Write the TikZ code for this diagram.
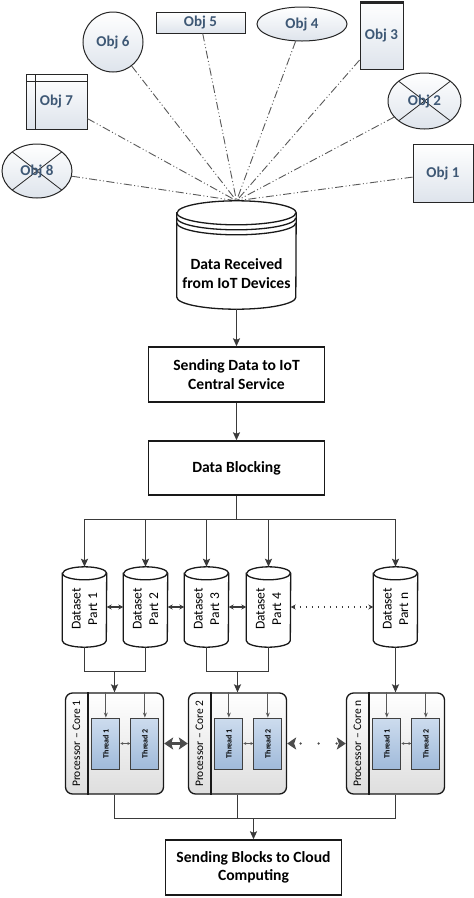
\documentclass[tikz,border=0pt]{standalone}
\usepackage{fontspec}
\setmainfont{Carlito}
\usetikzlibrary{shapes.geometric,arrows.meta,calc}
\definecolor{linec}{RGB}{58,58,58}
\definecolor{objtxt}{RGB}{62,88,117}
\definecolor{objfill}{RGB}{222,228,236}
\definecolor{thtop}{RGB}{205,220,238}
\definecolor{thbot}{RGB}{160,186,218}
\definecolor{prbot}{RGB}{222,222,222}
\newcommand\drawcyl[4]{%
  \draw[#4] ($(#1.north west)+(0,#3)$) -- ($(#1.south west)+(0,-#3)$)
    arc[start angle=180,end angle=360,x radius=#2pt,y radius=#3pt]
    -- ($(#1.north east)+(0,#3)$)
    arc[start angle=0,end angle=180,x radius=#2pt,y radius=#3pt] -- cycle;
  \draw[#4] ($(#1.north west)+(0,#3)$) arc[start angle=180,end angle=360,x radius=#2pt,y radius=#3pt];
}
\begin{document}
\begin{tikzpicture}[x=1pt,y=-1pt,
  obj/.style={draw=black!85, line width=1pt, top color=white, bottom color=objfill,
    text=objtxt, font=\bfseries\fontsize{15}{16}\selectfont, inner sep=0pt},
  feed/.style={draw=black!65, line width=0.9pt,
    dash pattern=on 8pt off 2.5pt on 1pt off 2.5pt on 1pt off 2.5pt},
  flowbox/.style={draw=black!90, line width=1.4pt, minimum width=176pt, minimum height=55pt,
    align=center, font=\bfseries\fontsize{15.6}{18.5}\selectfont, inner sep=0pt},
  flow/.style={draw=linec, line width=1.4pt},
  arr/.style={flow, -{Stealth[length=8pt,width=7pt,inset=1.5pt]}},
  cylst/.style={draw=black!90, line width=1.3pt, fill=white},
  dsbox/.style={minimum width=44pt, minimum height=80pt, inner sep=0pt},
  dstext/.style={rotate=90, align=center, font=\fontsize{13.5}{16.5}\selectfont, inner sep=0pt},
  dsarr/.style={draw=linec, line width=1.1pt, {Stealth[length=5pt,width=5pt]}-{Stealth[length=5pt,width=5pt]}},
  proc/.style={draw=black!90, line width=1.3pt, rounded corners=7pt, minimum width=98pt,
    minimum height=101pt, top color=white, bottom color=prbot, inner sep=0pt},
  proctext/.style={rotate=90, font=\fontsize{11.5}{13}\selectfont, inner sep=0pt},
  thread/.style={draw=black!75, line width=0.9pt, minimum width=28pt, minimum height=51pt,
    top color=thtop, bottom color=thbot, inner sep=0pt},
  threadtext/.style={rotate=90, font=\bfseries\fontsize{8}{10}\selectfont, inner sep=0pt},
  tarr/.style={draw=black!65, line width=0.9pt, -{Stealth[length=5pt,width=4pt]}},
  tdbl/.style={draw=black!65, line width=0.6pt, {Stealth[length=3pt,width=3pt]}-{Stealth[length=3pt,width=3pt]}}
]
\path[use as bounding box, fill=white] (0,0) rectangle (474,898);

% ---------- IoT objects ----------
\node[obj, ellipse, minimum width=70pt, minimum height=54pt,
  path picture={\draw[line width=0.8pt] (path picture bounding box.north west) -- (path picture bounding box.south east)
     (path picture bounding box.north east) -- (path picture bounding box.south west);}] (o8) at (37,171) {Obj 8};
\node[obj, rectangle, minimum width=61pt, minimum height=55pt,
  path picture={\draw[line width=0.8pt] ([xshift=9pt]path picture bounding box.north west) -- ([xshift=9pt]path picture bounding box.south west)
     ([yshift=-7pt]path picture bounding box.north west) -- ([yshift=-7pt]path picture bounding box.north east);}] (o7) at (56.5,101.5) {Obj 7};
\node[obj, circle, minimum size=60pt] (o6) at (113,42) {Obj 6};
\node[obj, rectangle, minimum width=89pt, minimum height=21pt] (o5) at (200.5,22.5) {Obj 5};
\node[obj, ellipse, minimum width=90pt, minimum height=34pt] (o4) at (302,24) {Obj 4};
\node[obj, rectangle, minimum width=43pt, minimum height=68pt,
  path picture={\draw[line width=5pt] (path picture bounding box.north west) -- (path picture bounding box.north east);}] (o3) at (381.5,35) {Obj 3};
\node[obj, ellipse, minimum width=73pt, minimum height=56pt,
  path picture={\draw[line width=0.8pt] (path picture bounding box.north west) -- (path picture bounding box.south east)
     (path picture bounding box.north east) -- (path picture bounding box.south west);}] (o2) at (424.5,101) {Obj 2};
\node[obj, rectangle, minimum width=60pt, minimum height=58pt] (o1) at (443,173) {Obj 1};

% ---------- database ----------
\node[minimum width=119pt, minimum height=108pt, inner sep=0pt] (db) at (236.5,255) {};
\foreach \o in {o1,o2,o3,o4,o5,o6,o7,o8} \draw[feed] (\o) -- (db.north);
\drawcyl{db}{59.5}{12}{cylst}
\draw[cylst, fill=none] ($(db.north west)+(0,17)$) arc[start angle=180,end angle=360,x radius=59.5pt,y radius=12pt];
\draw[cylst, fill=none] ($(db.north west)+(0,22)$) arc[start angle=180,end angle=360,x radius=59.5pt,y radius=12pt];
\node[align=center, font=\bfseries\fontsize{15.6}{19}\selectfont] (dbt) at (236.5,273.5) {Data Received\\from IoT Devices};

% ---------- flow boxes ----------
\node[flowbox] (b1) at (236.5,374.5) {Sending Data to IoT\\Central Service};
\node[flowbox, minimum height=54pt] (b2) at (236.5,468) {Data Blocking};
\draw[arr] (db.south) -- (b1.north);
\draw[arr] (b1.south) -- (b2.north);
\coordinate (split) at (236.5,519.5);
\draw[flow] (b2.south) -- (split);

% ---------- datasets ----------
\foreach \n/\x/\l in {ds1/84.5/1, ds2/145.5/2, ds3/206.5/3, ds4/268.5/4, dsn/395.5/n} {
  \node[dsbox] (\n) at (\x,607) {};
  \drawcyl{\n}{22}{6.5}{cylst}
  \node[dstext] (\n-t) at ($(\n.center)+(0,2)$) {Dataset\\Part \l};
  \draw[arr] (split) -| (\n.north);
}
\draw[dsarr] (ds1.east) -- (ds2.west);
\draw[dsarr] (ds2.east) -- (ds3.west);
\draw[dsarr] (ds3.east) -- (ds4.west);
\draw[dsarr, dash pattern=on 1pt off 5pt] (ds4.east) -- (dsn.west);

% ---------- processors ----------
\foreach \n/\x/\l in {p1/114.5/1, p2/237.5/2, pn/395.5/n} {
  \node[proc] (\n) at (\x,743.5) {};
  \draw[flow, draw=black!90] ($(\n.north west)+(23,0)$) -- ($(\n.south west)+(23,0)$);
  \node[proctext] (\n-t) at ($(\n.west)+(11.5,0)$) {Processor -- Core \l};
  \node[thread] (\n-a) at ($(\n.west)+(41,0)$) {};
  \node[thread] (\n-b) at ($(\n.west)+(80,0)$) {};
  \node[threadtext] (\n-at) at (\n-a.center) {Thread 1};
  \node[threadtext] (\n-bt) at (\n-b.center) {Thread 2};
  \draw[tarr] (\n-a.north |- \n.north) -- (\n-a.north);
  \draw[tarr] (\n-b.north |- \n.north) -- (\n-b.north);
  \draw[tdbl] (\n-a.east) -- (\n-b.west);
}
\coordinate (j1) at (114.5,671.5);
\coordinate (j2) at (237.5,671.5);
\draw[flow] (ds1.south) |- (j1) -| (ds2.south);
\draw[flow] (ds3.south) |- (j2) -| (ds4.south);
\draw[arr] (j1) -- (p1.north);
\draw[arr] (j2) -- (p2.north);
\draw[arr] (dsn.south) -- (pn.north);

\draw[draw=black!70, line width=2.6pt,
  {Stealth[length=9pt,width=12pt,inset=2pt]}-{Stealth[length=9pt,width=12pt,inset=2pt]}] (p1.east) -- (p2.west);
\draw[draw=black!70, line width=2.6pt, line cap=round, dash pattern=on 0pt off 18pt, dash phase=11pt,
  {Stealth[length=9pt,width=12pt,inset=2pt]}-{Stealth[length=9pt,width=12pt,inset=2pt]}] (p2.east) -- (pn.west);

% ---------- final ----------
\node[flowbox] (fin) at (253.5,867.5) {Sending Blocks to Cloud\\Computing};
\coordinate (j3) at (237.5,818.5);
\draw[flow] (p1.south) |- (j3) -| (pn.south);
\draw[flow] (p2.south) -- (p2.south |- j3);
\draw[arr] (fin.north |- j3) -- (fin.north);
\end{tikzpicture}
\end{document}
